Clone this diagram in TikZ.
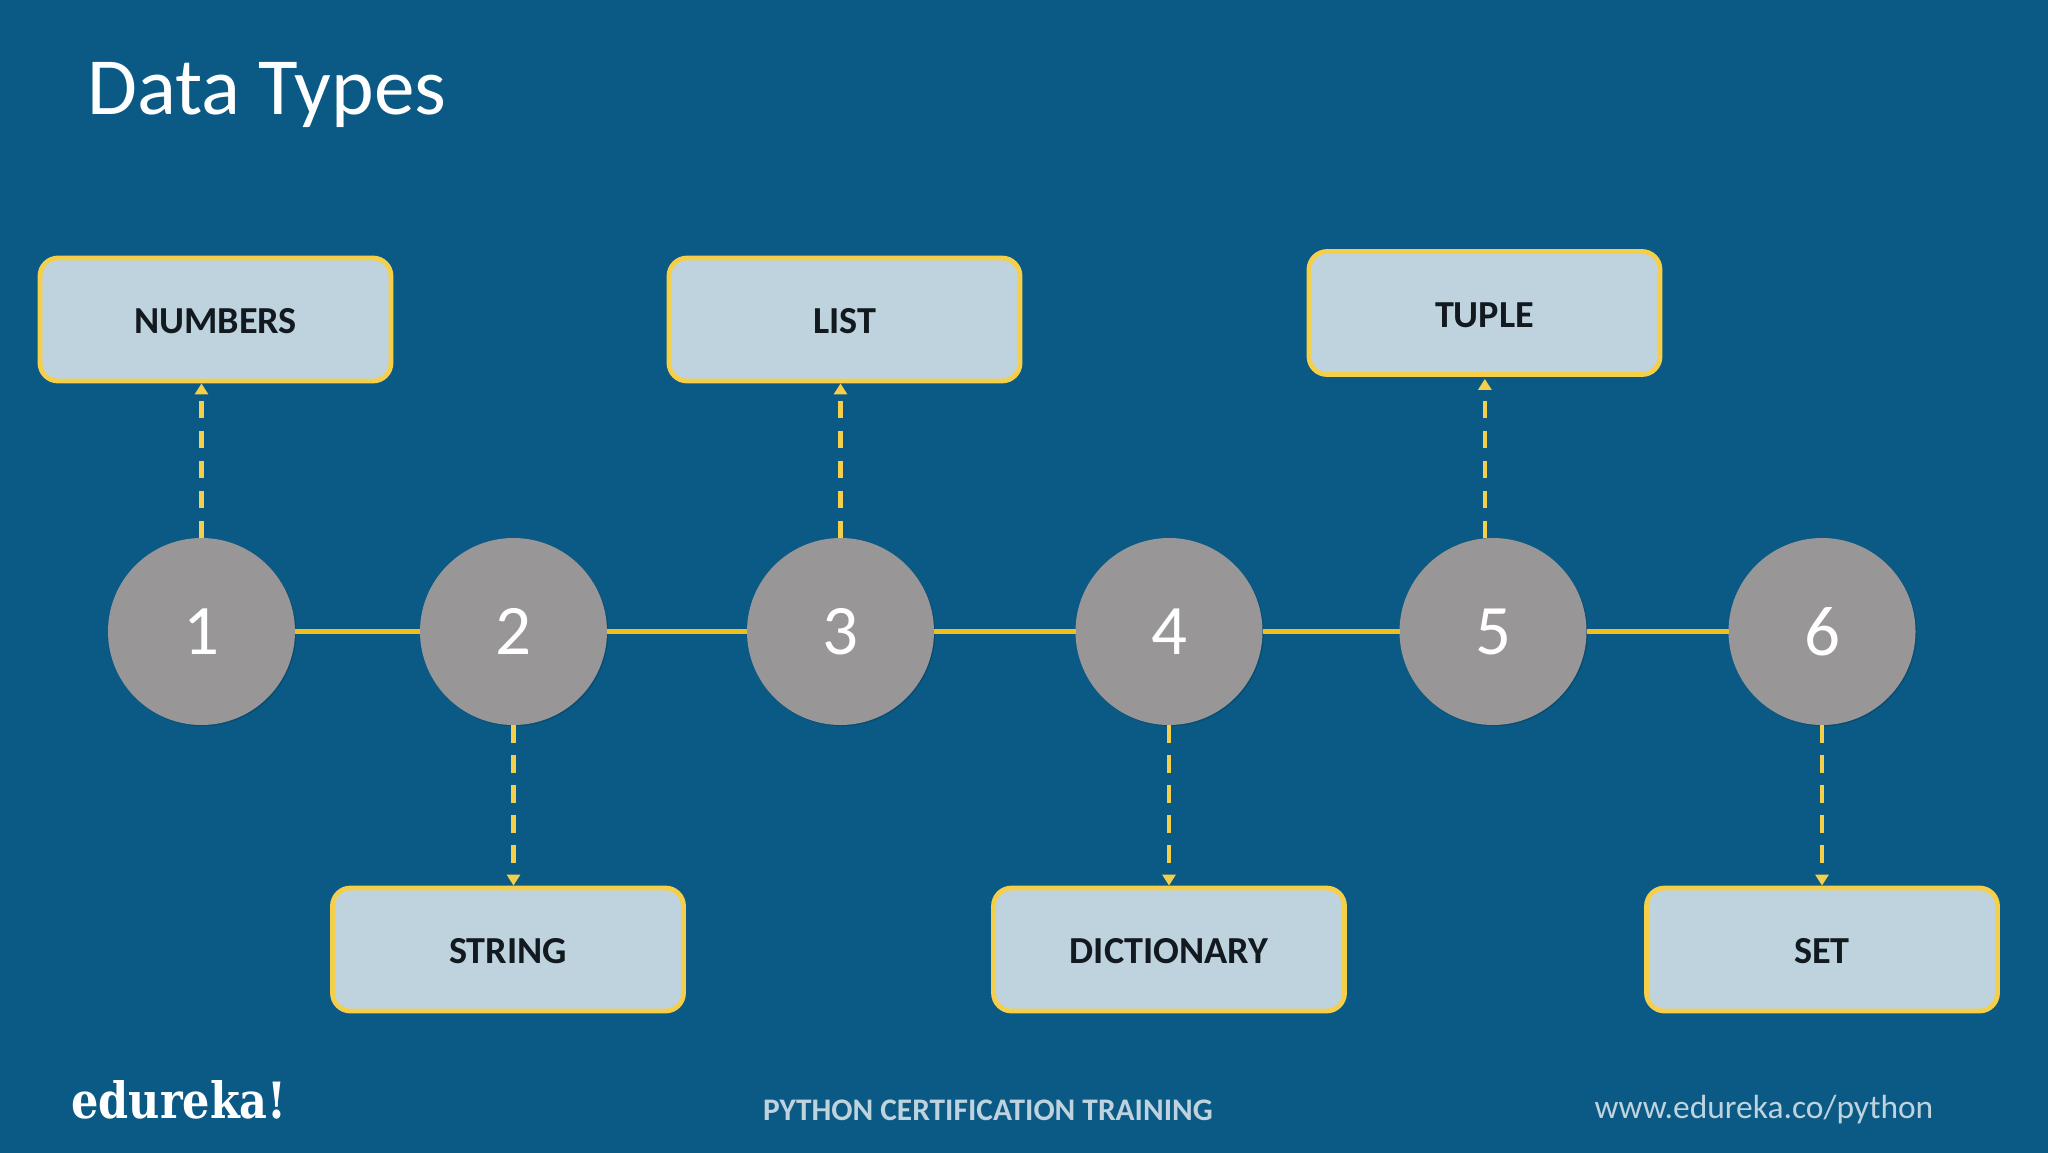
\documentclass[tikz,border=0pt]{standalone}
\usepackage{fontspec}
\setmainfont{Carlito}
\newfontfamily\logofont{DejaVu Serif}
\usetikzlibrary{arrows.meta,shadows}
\definecolor{bgblue}{HTML}{0A5A85}
\definecolor{boxfill}{HTML}{BFD3DF}
\definecolor{boxline}{HTML}{F5CF4A}
\definecolor{solidline}{HTML}{F2BE1C}
\definecolor{circfill}{HTML}{989696}
\definecolor{labelink}{HTML}{12191F}
\tikzset{
  x=0.5pt,y=-0.5pt,
  numcirc/.style={circle,fill=circfill,minimum size=93.5pt,inner sep=0pt,outer sep=0pt,text=white,
    font=\fontsize{35.5}{35.5}\selectfont,drop shadow={shadow xshift=0.6pt,shadow yshift=-0.6pt,opacity=.15,fill=black}},
  typebox/.style={draw=boxline,fill=boxfill,line width=2.4pt,rounded corners=9pt,minimum width=175.5pt,minimum height=61.5pt,
    inner sep=0pt,text=labelink,text height=14pt,text depth=0pt,font=\fontsize{19.1}{19.1}\selectfont\bfseries},
  joinline/.style={draw=solidline,line width=2.3pt},
  dashlink/.style={draw=boxline,line width=2.3pt,dash pattern=on 8.75pt off 6.25pt,-{Triangle[length=5.5pt,width=6.5pt]}},
  foot/.style={anchor=base,inner sep=0pt},
}
\begin{document}
\begin{tikzpicture}
\useasboundingbox (0,0) rectangle (2048,1152);
\fill[bgblue] (-6,-6) rectangle (2054,1158);
\node[anchor=base west,text=white,inner sep=0pt,font=\fontsize{40.6}{40.6}\selectfont] (title) at (87,114) {Data Types};
\node[numcirc] (c1) at (201.5,631.5) {1};
\node[numcirc] (c2) at (513.5,631.5) {2};
\node[numcirc] (c3) at (840.5,631.5) {3};
\node[numcirc] (c4) at (1169,631.5) {4};
\node[numcirc] (c5) at (1493,631.5) {5};
\node[numcirc] (c6) at (1822,631.5) {6};
\node[typebox] (n1) at (215.5,319.5) {NUMBERS};
\node[typebox] (n3) at (844.5,319.5) {LIST};
\node[typebox] (n5) at (1484.5,313) {TUPLE};
\node[typebox] (n2) at (508,949.5) {STRING};
\node[typebox] (n4) at (1169,949.5) {DICTIONARY};
\node[typebox] (n6) at (1822,949.5) {SET};
\draw[joinline] (c1) -- (c2);
\draw[joinline] (c2) -- (c3);
\draw[joinline] (c3) -- (c4);
\draw[joinline] (c4) -- (c5);
\draw[joinline] (c5) -- (c6);
\draw[dashlink] (c1.north) -- (c1.north |- n1.south);
\draw[dashlink] (c3.north) -- (c3.north |- n3.south);
\draw[dashlink,shorten >=1pt] (c5.95) -- (c5.95 |- n5.south);
\draw[dashlink] (c2.south) -- (c2.south |- n2.north);
\draw[dashlink] (c4.south) -- (c4.south |- n4.north);
\draw[dashlink] (c6.south) -- (c6.south |- n6.north);
\node[anchor=base west,text=white,inner sep=0pt,font=\logofont\bfseries\fontsize{25}{25}\selectfont] (logo) at (71,1118) {\scalebox{0.86}[1]{edureka!}};
\node[foot,font=\fontsize{15.7}{15.7}\selectfont\bfseries,text=boxfill] (course) at (988,1120) {PYTHON CERTIFICATION TRAINING};
\node[foot,font=\fontsize{16.75}{16.75}\selectfont,text=boxfill] (url) at (1764,1118) {www.edureka.co/python};
\end{tikzpicture}
\end{document}
